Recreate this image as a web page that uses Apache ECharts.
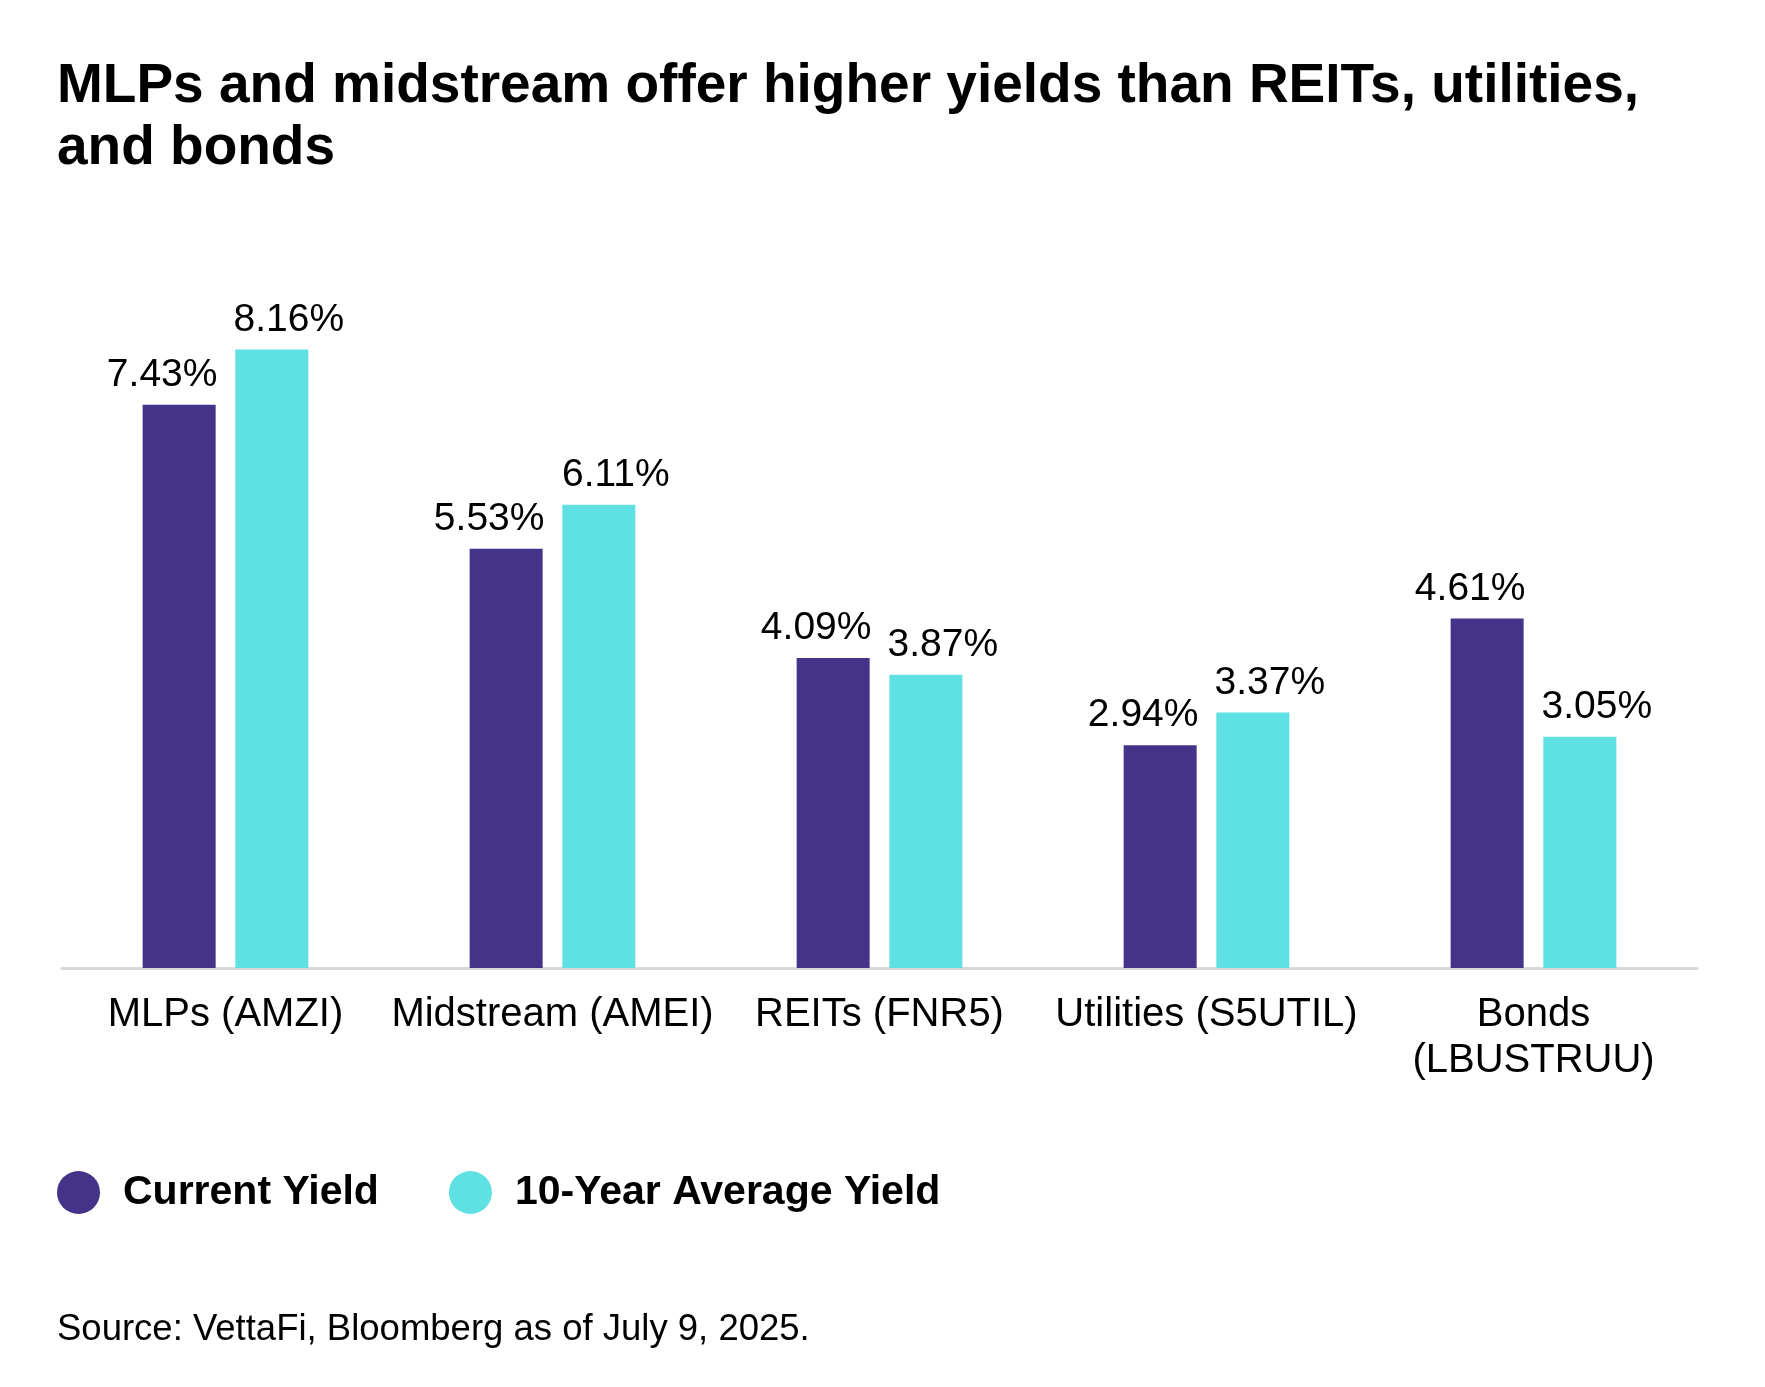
<!DOCTYPE html>
<html>
<head>
<meta charset="utf-8">
<script src="https://cdn.jsdelivr.net/npm/echarts@6/dist/echarts.min.js"></script>
<style>
html,body{margin:0;padding:0;background:#fff;}
#chart{width:1765px;height:1387px;}
</style>
</head>
<body>
<div id="chart"></div>
<script>
const categories = ['MLPs (AMZI)', 'Midstream (AMEI)', 'REITs (FNR5)', 'Utilities (S5UTIL)', 'Bonds\n(LBUSTRUU)'];
const currentYield = [7.43, 5.53, 4.09, 2.94, 4.61];
const avgYield = [8.16, 6.11, 3.87, 3.37, 3.05];
const seriesNames = ['Current Yield', '10-Year Average Yield'];
const titleText = 'MLPs and midstream offer higher yields than REITs, utilities,\nand bonds';
const sourceText = 'Source: VettaFi, Bloomberg as of July 9, 2025.';

const FONT = "'Liberation Sans', Arial, Helvetica, sans-serif";
const PURPLE = '#45338a';
const CYAN = '#5fe0e3';

const chart = echarts.init(document.getElementById('chart'));
chart.setOption({
  backgroundColor: '#fff',
  animation: false,
  textStyle: { fontFamily: FONT },
  title: {
    text: titleText,
    left: 57,
    top: 56,
    padding: 0,
    textStyle: { fontFamily: FONT, fontSize: 55, fontWeight: 'bold', lineHeight: 62, color: '#000' }
  },
  legend: {
    data: seriesNames,
    left: 57,
    top: 1171,
    padding: 0,
    icon: 'circle',
    itemWidth: 43,
    itemHeight: 43,
    itemGap: 70,
    textStyle: { fontFamily: FONT, fontSize: 41, fontWeight: 'bold', color: '#000', padding: [0, 0, 0, 18] }
  },
  grid: { left: 62, right: 68, top: 210, bottom: 419, containLabel: false },
  xAxis: {
    type: 'category',
    data: categories,
    axisTick: { show: false },
    axisLine: { lineStyle: { color: '#d9d9d9', width: 3 } },
    axisLabel: { fontFamily: FONT, fontSize: 40, lineHeight: 46, color: '#000', margin: 24, interval: 0 }
  },
  yAxis: {
    type: 'value', min: 0, max: 10, show: false, splitLine: { show: false }
  },
  series: [
    {
      name: seriesNames[0], type: 'bar', data: currentYield, barWidth: 73, barGap: '27%',
      itemStyle: { color: PURPLE },
      label: { show: true, position: 'top', distance: 10, offset: [-17, 0], formatter: p => p.value.toFixed(2) + '%',
        fontFamily: FONT, fontSize: 39, color: '#000' }
    },
    {
      name: seriesNames[1], type: 'bar', data: avgYield, barWidth: 73,
      itemStyle: { color: CYAN },
      label: { show: true, position: 'top', distance: 10, offset: [17, 0], formatter: p => p.value.toFixed(2) + '%',
        fontFamily: FONT, fontSize: 39, color: '#000' }
    }
  ],
  graphic: [
    { type: 'text', left: 57, top: 1311, style: { text: sourceText, font: "36.5px 'Liberation Sans', Arial, sans-serif", fill: '#000' } }
  ]
});
</script>
</body>
</html>
